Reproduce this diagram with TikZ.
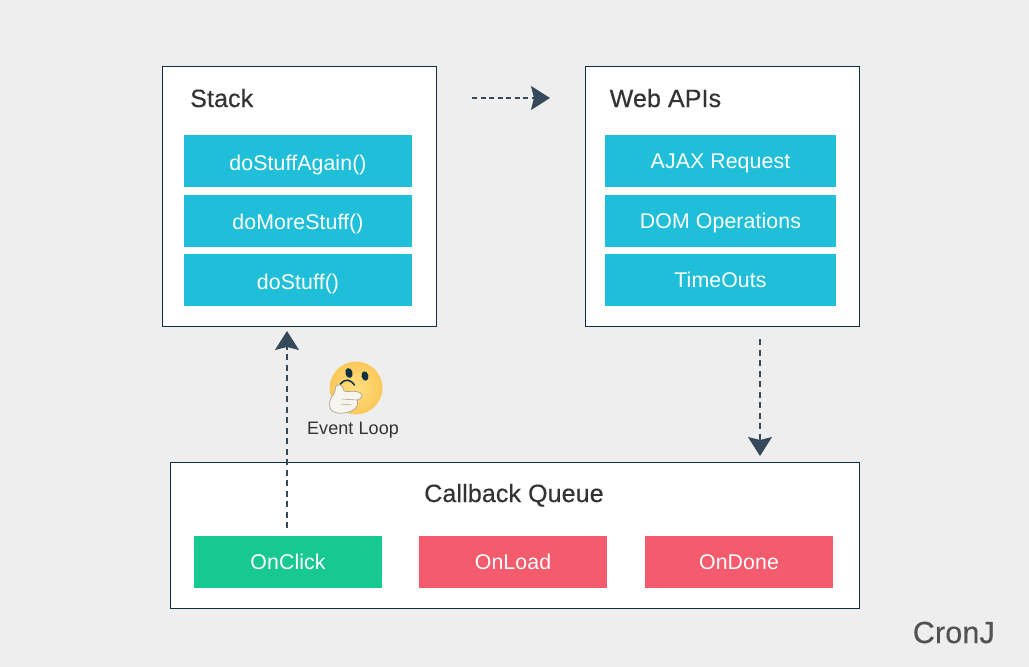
\documentclass[tikz,border=0pt]{standalone}
\usepackage{fontspec}
\setmainfont{Liberation Sans}[LetterSpace=0.5]
\newfontfamily\medfont{Liberation Sans}[FakeBold=0.4,LetterSpace=0.5]
\usetikzlibrary{arrows.meta,shadings}
\definecolor{pagebg}{HTML}{EEEEEE}
\definecolor{boxline}{HTML}{0F2F42}
\definecolor{arrowcol}{HTML}{36495A}
\definecolor{itemblue}{HTML}{20BFD9}
\definecolor{itemgreen}{HTML}{17C990}
\definecolor{itemred}{HTML}{F45B6C}
\definecolor{titletext}{HTML}{333333}
\definecolor{facecol}{HTML}{FFDF80}
\definecolor{faceedge}{HTML}{FBC95A}
\definecolor{handcol}{HTML}{F7F5EE}
\definecolor{handline}{HTML}{A9A69A}
\tikzset{
  panel/.style={draw=boxline,line width=1pt,fill=white,inner sep=0,outer sep=0},
  item/.style={fill=itemblue,text=white,minimum height=52pt,inner sep=0,outer sep=0,text height=15pt,text depth=0pt,font=\fontsize{21.3}{24}\selectfont},
  stackitem/.style={item,minimum width=228pt,text height=18pt},
  webitem/.style={item,minimum width=231pt},
  queueitem/.style={item,minimum width=188pt},
  title/.style={text=titletext,anchor=base west,inner sep=0,font=\medfont\fontsize{25}{28}\selectfont},
  flow/.style={draw=arrowcol,line width=1.6pt,dash pattern=on 6pt off 4.5pt,-{Stealth[length=19pt,width=24pt,inset=3pt,color=arrowcol]}},
}
\begin{document}
\begin{tikzpicture}[x=1pt,y=-1pt,node distance=59.5pt]
\useasboundingbox (0,0) rectangle (1029,667);
\fill[pagebg] (0,0) rectangle (1029,667);
% panels
\node (stack) [panel,minimum width=274pt,minimum height=260pt] at (299.5,196) {};
\node (web) [panel,minimum width=274pt,minimum height=260pt] at (722,196) {};
\node (queue) [panel,minimum width=689pt,minimum height=146pt] at (514.5,535) {};
\node (stacktitle) [title] at (190,107) {Stack};
\node (webtitle) [title] at (609.5,107) {Web APIs};
\node (queuetitle) [title,anchor=base] at (514,502) {Callback Queue};
% stack frames
\node (again) [stackitem] at (298,161) {doStuffAgain()};
\node (more) [stackitem,below of=again] {doMoreStuff()};
\node (stuff) [stackitem,below of=more] {doStuff()};
% web apis
\node (ajax) [webitem] at (720.5,161) {AJAX Request};
\node (dom) [webitem,below of=ajax] {DOM Operations};
\node (timeouts) [webitem,below of=dom] {TimeOuts};
% queue
\node (click) [queueitem,fill=itemgreen] at (288,562) {OnClick};
\node (load) [queueitem,fill=itemred] at (513,562) {OnLoad};
\node (done) [queueitem,fill=itemred] at (739,562) {OnDone};
% arrows
\coordinate (a0) at (472,98);
\coordinate (a1) at (550,98);
\coordinate (b0) at (760,339);
\coordinate (b1) at (760,456);
\coordinate (c0) at (287,528);
\coordinate (c1) at (287,331);
\draw [flow,line width=1.3pt,dash pattern=on 5pt off 3.5pt] (a0) -- (a1);
\draw [flow] (b0) -- (b1);
\draw [flow] (c0) -- (c1);
% thinking face
\shade[draw=faceedge,line width=0.8pt,shading=radial,inner color=facecol,outer color=faceedge] (356,388) circle (26);
\fill[boxline,rotate around={15:(349,373)}] (349,373) ellipse (3.6 and 5);
\fill[boxline,rotate around={15:(365,376)}] (365,376) ellipse (3.4 and 4.8);
\draw[boxline,line width=1.5pt,line cap=round] (340.5,384) .. controls (345,378.5) and (350,379) .. (354.5,385);
\draw[handline,fill=handcol,line width=0.7pt,line join=round] (336,386) .. controls (338,384) and (342,385) .. (343,388) .. controls (343,391) and (345,392) .. (349,391.5) .. controls (353,391) and (362,391) .. (362,395.5) .. controls (362,398.5) and (359,399.5) .. (357,400) .. controls (358.5,404) and (357,408) .. (353,410) .. controls (347,414) and (335,414.5) .. (331,410) .. controls (328,405) and (330,398) .. (333,395) .. controls (335,393) and (335,390) .. (336,386) -- cycle;
\draw[handline,line width=0.6pt] (342,399) -- (357,400) (341,404) -- (352,405);
\node (loop) [text=titletext,inner sep=0,font=\fontsize{18}{20}\selectfont,anchor=base] at (353,434.5) {Event Loop};
\node (brand) [text=black!68,inner sep=0,anchor=base east,font=\medfont\fontsize{30.5}{32}\selectfont] at (995,643) {CronJ};
\end{tikzpicture}
\end{document}
